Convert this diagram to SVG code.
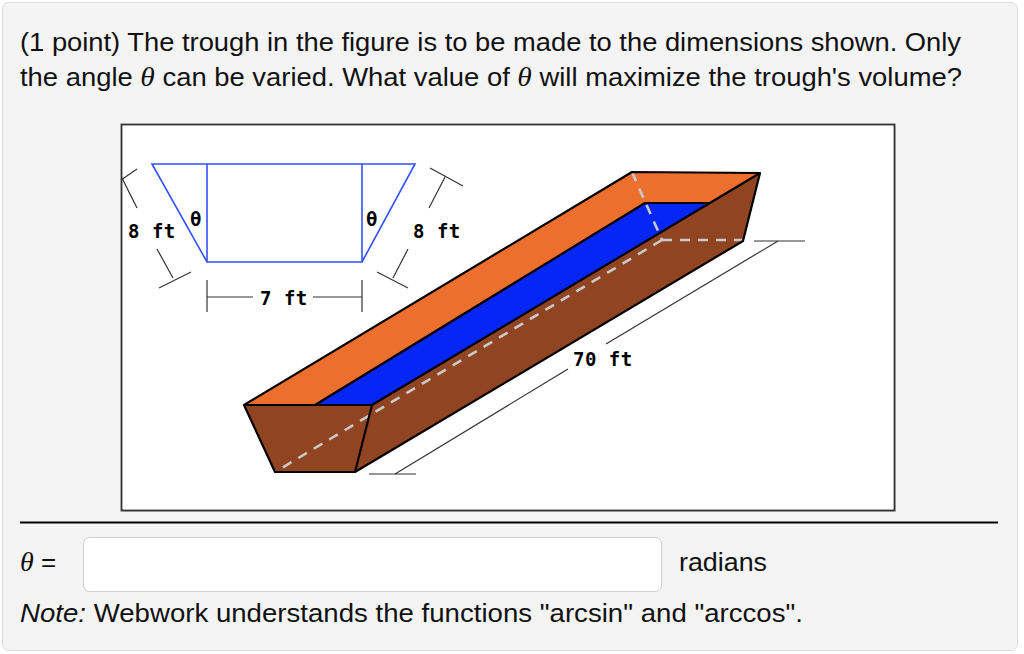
<svg xmlns="http://www.w3.org/2000/svg" width="1024" height="654" viewBox="0 0 1024 654">
<style>
.q{font-family:"Liberation Sans",Arial,sans-serif;font-size:26px;fill:#111}
.m{font-family:"Liberation Serif","Times New Roman",serif;font-style:italic;font-size:28px}
.lbl{font-family:"DejaVu Sans Mono","Liberation Mono",monospace;font-weight:bold;font-size:19px;fill:#000;letter-spacing:0.5px}
.dim{stroke:#333;stroke-width:1.2;fill:none}
.blue{stroke:#3350ff;stroke-width:1.6;fill:none}
.edge{stroke:#000;stroke-width:2.2;fill:none;stroke-linejoin:round}
.hid{stroke:#c9c9c9;stroke-width:2.6;fill:none;stroke-dasharray:10 8}
</style>
<rect x="2.5" y="2.5" width="1015" height="648" rx="6" fill="#f4f4f4" stroke="#dedede"/>
<g id="question">
<text class="q" x="20" y="51" textLength="941" lengthAdjust="spacingAndGlyphs">(1 point) The trough in the figure is to be made to the dimensions shown. Only</text>
<text class="q" x="20" y="86" textLength="942" lengthAdjust="spacingAndGlyphs">the angle <tspan class="m">θ</tspan> can be varied. What value of <tspan class="m">θ</tspan> will maximize the trough's volume?</text>
</g>
<g id="figure">
<rect x="123" y="126" width="773" height="386" fill="#d8d8d8"/>
<rect x="121.5" y="124.5" width="773" height="386" fill="#fff" stroke="#333" stroke-width="1.8"/>
<g id="cross-section">
<polygon class="blue" points="152,164 415,164 362,262 207,262"/>
<line class="blue" x1="207" y1="164" x2="207" y2="262"/>
<line class="blue" x1="362" y1="164" x2="362" y2="262"/>
<text class="lbl" x="190" y="226" font-size="15">θ</text>
<text class="lbl" x="366" y="226" font-size="15">θ</text>
</g>
<g id="dim-8ft-left">
<line class="dim" x1="121" y1="180" x2="137" y2="169"/>
<line class="dim" x1="122" y1="178" x2="137" y2="208"/>
<line class="dim" x1="157" y1="249" x2="173" y2="278"/>
<line class="dim" x1="159" y1="288" x2="191" y2="272"/>
<text class="lbl" x="128" y="238">8 ft</text>
</g>
<g id="dim-8ft-right">
<line class="dim" x1="430" y1="168" x2="463" y2="186"/>
<line class="dim" x1="445" y1="177" x2="429" y2="208"/>
<line class="dim" x1="408" y1="249" x2="393" y2="278"/>
<line class="dim" x1="377" y1="272" x2="408" y2="288"/>
<text class="lbl" x="413" y="238">8 ft</text>
</g>
<g id="dim-7ft">
<line class="dim" x1="207" y1="280" x2="207" y2="312"/>
<line class="dim" x1="362" y1="280" x2="362" y2="312"/>
<line class="dim" x1="207" y1="297" x2="253" y2="297"/>
<line class="dim" x1="313" y1="297" x2="362" y2="297"/>
<text class="lbl" x="260" y="305">7 ft</text>
</g>
<g id="trough">
<polygon points="244,405 632,172 760,173 710,203 645,203 315,405" fill="#ec6f2e"/>
<polygon points="315,405 645,203 710,203 372,405" fill="#0626f5"/>
<polygon points="372,405 760,173 743,241 355,472" fill="#914421"/>
<polygon points="244,405 372,405 355,472 275,472" fill="#914421"/>
<line class="hid" x1="632" y1="172" x2="662" y2="240"/>
<line class="hid" x1="662" y1="240" x2="743" y2="240"/>
<line class="hid" x1="662" y1="240" x2="275" y2="472"/>
<polygon class="edge" points="244,405 632,172 760,173 743,241 355,472 275,472"/>
<polyline class="edge" points="244,405 372,405 355,472"/>
<line class="edge" x1="372" y1="405" x2="760" y2="173"/>
<polyline class="edge" points="315,405 645,203 710,203"/>
</g>
<g id="dim-70ft">
<line class="dim" x1="754" y1="241" x2="805" y2="241"/>
<line class="dim" x1="369" y1="474" x2="416" y2="474"/>
<line class="dim" x1="395" y1="474" x2="568" y2="369"/>
<line class="dim" x1="606" y1="344" x2="778" y2="241"/>
<text class="lbl" x="573" y="366">70 ft</text>
</g>
</g>
<line x1="20" y1="522.5" x2="998" y2="522.5" stroke="#000" stroke-width="2"/>
<g id="answer">
<text class="q" x="20" y="571"><tspan class="m">θ</tspan> =</text>
<rect x="83.5" y="537.5" width="578" height="54" rx="6" fill="#fff" stroke="#cfcfcf"/>
<text class="q" x="679" y="571" textLength="88" lengthAdjust="spacingAndGlyphs">radians</text>
<text class="q" x="20" y="622" textLength="783" lengthAdjust="spacingAndGlyphs"><tspan font-style="italic">Note:</tspan> Webwork understands the functions "arcsin" and "arccos".</text>
</g>
</svg>
